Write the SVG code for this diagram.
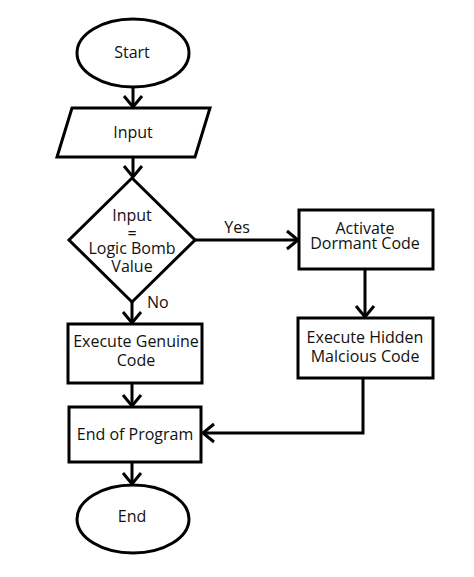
<svg xmlns="http://www.w3.org/2000/svg" width="474" height="577" viewBox="0 0 474 577">
<style>
.s{fill:#fff;stroke:#000;stroke-width:3}
.t{font-family:"Open Sans","Liberation Sans",sans-serif;font-size:16px;fill:#111;text-anchor:middle}
.c{fill:none;stroke:#000;stroke-width:3}
</style>
<defs>
<marker id="arr" markerUnits="userSpaceOnUse" viewBox="-14 -12 16 24" refX="0" refY="0" markerWidth="16" markerHeight="24" orient="auto" overflow="visible">
<path d="M-11,-9 L0,0 L-11,9" fill="none" stroke="#000" stroke-width="3"/>
</marker>
</defs>
<rect width="474" height="577" fill="#fff"/>
<g id="connectors">
<path class="c" d="M133,88 V107" marker-end="url(#arr)"/>
<path class="c" d="M133,157 V177" marker-end="url(#arr)"/>
<path class="c" d="M195,240 H298" marker-end="url(#arr)"/>
<path class="c" d="M365,269 V317" marker-end="url(#arr)"/>
<path class="c" d="M132,302 V323" marker-end="url(#arr)"/>
<path class="c" d="M132,383 V406" marker-end="url(#arr)"/>
<path class="c" d="M363,378 V433 H203" marker-end="url(#arr)"/>
<path class="c" d="M132,462 V484" marker-end="url(#arr)"/>
<text class="t" x="237" y="233">Yes</text>
<text class="t" x="147" y="308" style="text-anchor:start">No</text>
</g>
<g id="start">
<ellipse class="s" cx="133" cy="53" rx="56" ry="34"/>
<text class="t" x="132" y="58">Start</text>
</g>
<g id="input">
<polygon class="s" points="72,108 210,108 195,157 57,157"/>
<text class="t" x="133" y="138">Input</text>
</g>
<g id="decision">
<polygon class="s" points="132,178 195,240 132,302 69,240"/>
<text class="t" x="132" y="221">Input</text>
<text class="t" x="132" y="239">=</text>
<text class="t" x="132" y="254">Logic Bomb</text>
<text class="t" x="132" y="272">Value</text>
</g>
<g id="activate">
<rect class="s" x="299" y="210" width="134" height="59"/>
<text class="t" x="365" y="234">Activate</text>
<text class="t" x="365" y="249">Dormant Code</text>
</g>
<g id="hidden">
<rect class="s" x="298" y="318" width="135" height="60"/>
<text class="t" x="365" y="343">Execute Hidden</text>
<text class="t" x="365" y="362">Malcious Code</text>
</g>
<g id="genuine">
<rect class="s" x="68" y="324" width="134" height="59"/>
<text class="t" x="136" y="347">Execute Genuine</text>
<text class="t" x="136" y="366">Code</text>
</g>
<g id="endprog">
<rect class="s" x="69" y="407" width="132" height="55"/>
<text class="t" x="135" y="440">End of Program</text>
</g>
<g id="end">
<ellipse class="s" cx="133" cy="519" rx="56" ry="34"/>
<text class="t" x="132" y="522">End</text>
</g>
</svg>
